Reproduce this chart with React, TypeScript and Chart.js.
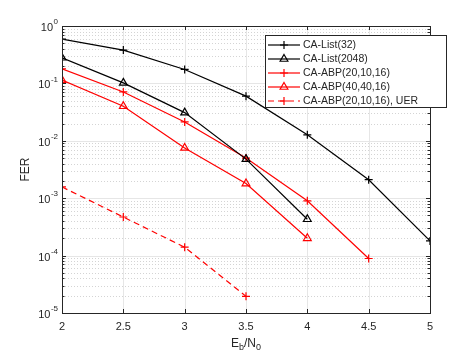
import React, { useEffect, useRef } from 'react';
import { Chart, registerables } from 'chart.js';

Chart.register(...registerables);

// ---- data ----
const ebn0 = [2, 2.5, 3, 3.5, 4, 4.5, 5];
const xTickLabels = ['2', '2.5', '3', '3.5', '4', '4.5', '5'];
const yDecades = [0, -1, -2, -3, -4, -5];

const seriesNames = [
  'CA-List(32)',
  'CA-List(2048)',
  'CA-ABP(20,10,16)',
  'CA-ABP(40,40,16)',
  'CA-ABP(20,10,16), UER',
];
const caList32 = [0.59, 0.38, 0.175, 0.06, 0.0127, 0.0021, 1.8e-4];
const caList2048 = [0.28, 0.102, 0.031, 0.0048, 4.3e-4];
const abp201016 = [0.18, 0.071, 0.0213, 0.005, 9e-4, 8.9e-5];
const abp404016 = [0.114, 0.04, 0.0075, 0.0018, 2.0e-4];
const abp201016Uer = [1.57e-3, 4.7e-4, 1.4e-4, 1.95e-5];

const FONT = '"Liberation Sans", Arial, Helvetica, sans-serif';
const AXIS = '#262626';
const RED = '#ff0000';
const BLACK = '#000000';

const seriesStyles = [
  { color: BLACK, marker: 'cross', dash: [] as number[] },
  { color: BLACK, marker: 'triangle', dash: [] as number[] },
  { color: RED, marker: 'cross', dash: [] as number[] },
  { color: RED, marker: 'triangle', dash: [] as number[] },
  { color: RED, marker: 'cross', dash: [6, 4] },
];
const seriesValues = [caList32, caList2048, abp201016, abp404016, abp201016Uer];

function drawMarker(ctx: CanvasRenderingContext2D, kind: string, x: number, y: number, color: string) {
  ctx.save();
  ctx.setLineDash([]);
  ctx.strokeStyle = color;
  ctx.lineWidth = 1.2;
  ctx.beginPath();
  if (kind === 'cross') {
    const r = 4;
    ctx.moveTo(x - r, y);
    ctx.lineTo(x + r, y);
    ctx.moveTo(x, y - r);
    ctx.lineTo(x, y + r);
  } else {
    const r = 4.5;
    let a = 0;
    ctx.moveTo(x + Math.sin(a) * r, y - Math.cos(a) * r);
    a += (2 * Math.PI) / 3;
    ctx.lineTo(x + Math.sin(a) * r, y - Math.cos(a) * r);
    a += (2 * Math.PI) / 3;
    ctx.lineTo(x + Math.sin(a) * r, y - Math.cos(a) * r);
    ctx.closePath();
  }
  ctx.stroke();
  ctx.restore();
}

const matlabPlugin = {
  id: 'matlabStyle',
  beforeDatasetsDraw(chart: any) {
    const { ctx, chartArea: a, scales } = chart;
    const xs = scales.x;
    const ys = scales.y;
    ctx.save();
    ctx.lineWidth = 1;
    // minor horizontal grid (dotted)
    ctx.strokeStyle = '#d4d4d4';
    ctx.setLineDash([1, 2]);
    for (const d of yDecades) {
      for (let m = 2; m <= 9; m++) {
        const v = m * Math.pow(10, d);
        if (v >= 1) continue;
        const py = Math.round(ys.getPixelForValue(v)) + 0.5;
        ctx.beginPath();
        ctx.moveTo(a.left, py);
        ctx.lineTo(a.right, py);
        ctx.stroke();
      }
    }
    // major grid
    ctx.setLineDash([]);
    ctx.strokeStyle = '#e6e6e6';
    for (const d of yDecades) {
      const py = Math.round(ys.getPixelForValue(Math.pow(10, d))) + 0.5;
      ctx.beginPath();
      ctx.moveTo(a.left, py);
      ctx.lineTo(a.right, py);
      ctx.stroke();
    }
    for (const v of ebn0) {
      const px = Math.round(xs.getPixelForValue(v)) + 0.5;
      ctx.beginPath();
      ctx.moveTo(px, a.top);
      ctx.lineTo(px, a.bottom);
      ctx.stroke();
    }
    ctx.restore();
  },
  afterDatasetsDraw(chart: any) {
    const { ctx, chartArea: a, scales } = chart;
    const xs = scales.x;
    const ys = scales.y;
    ctx.save();
    ctx.setLineDash([]);
    ctx.strokeStyle = AXIS;
    ctx.lineWidth = 1;
    // box
    ctx.strokeRect(Math.round(a.left) + 0.5, Math.round(a.top) + 0.5, Math.round(a.right - a.left), Math.round(a.bottom - a.top));
    // x ticks inward
    ctx.beginPath();
    for (const v of ebn0) {
      const px = Math.round(xs.getPixelForValue(v)) + 0.5;
      ctx.moveTo(px, a.bottom);
      ctx.lineTo(px, a.bottom - 4);
      ctx.moveTo(px, a.top);
      ctx.lineTo(px, a.top + 4);
    }
    // y ticks inward
    for (const d of yDecades) {
      for (let m = 1; m <= 9; m++) {
        const v = m * Math.pow(10, d);
        if (v > 1) continue;
        const len = m === 1 ? 4 : 2.5;
        const py = Math.round(ys.getPixelForValue(v)) + 0.5;
        ctx.moveTo(a.left, py);
        ctx.lineTo(a.left + len, py);
        ctx.moveTo(a.right, py);
        ctx.lineTo(a.right - len, py);
      }
    }
    ctx.stroke();

    // y tick labels 10^d
    ctx.fillStyle = AXIS;
    ctx.textBaseline = 'middle';
    for (const d of yDecades) {
      const py = ys.getPixelForValue(Math.pow(10, d));
      const sup = String(d).replace('-', '-');
      ctx.font = `8px ${FONT}`;
      const supW = ctx.measureText(sup).width;
      const right = a.left - 4;
      ctx.textAlign = 'right';
      ctx.fillText(sup, right, py - 4);
      ctx.font = `11px ${FONT}`;
      ctx.fillText('10', right - supW - 0.5, py + 2);
    }

    // y title
    ctx.save();
    ctx.translate(26, (a.top + a.bottom) / 2);
    ctx.rotate(-Math.PI / 2);
    ctx.textAlign = 'center';
    ctx.textBaseline = 'middle';
    ctx.font = `12px ${FONT}`;
    ctx.fillText('FER', 0, 0);
    ctx.restore();

    // x title E_b/N_0
    {
      const parts: [string, boolean][] = [['E', false], ['b', true], ['/N', false], ['0', true]];
      const big = `12px ${FONT}`;
      const small = `9px ${FONT}`;
      let total = 0;
      for (const [t, s] of parts) {
        ctx.font = s ? small : big;
        total += ctx.measureText(t).width;
      }
      let cx = (a.left + a.right) / 2 - total / 2;
      const base = 347;
      ctx.textAlign = 'left';
      ctx.textBaseline = 'alphabetic';
      for (const [t, s] of parts) {
        ctx.font = s ? small : big;
        ctx.fillText(t, cx, s ? base + 3 : base);
        cx += ctx.measureText(t).width;
      }
    }

    // legend
    {
      const lx = 265, ly = 35, lw = 181, lh = 72;
      ctx.fillStyle = '#ffffff';
      ctx.fillRect(lx, ly, lw, lh);
      ctx.strokeStyle = AXIS;
      ctx.lineWidth = 1;
      ctx.strokeRect(lx + 0.5, ly + 0.5, lw, lh);
      ctx.font = `10.5px ${FONT}`;
      ctx.textAlign = 'left';
      ctx.textBaseline = 'middle';
      seriesNames.forEach((name, i) => {
        const st = seriesStyles[i];
        const ry = ly + 10 + i * 14;
        ctx.save();
        ctx.strokeStyle = st.color;
        ctx.lineWidth = 1.2;
        ctx.setLineDash(st.dash);
        ctx.beginPath();
        ctx.moveTo(lx + 3, ry);
        ctx.lineTo(lx + 35, ry);
        ctx.stroke();
        ctx.restore();
        drawMarker(ctx, st.marker, lx + 19, ry, st.color);
        ctx.fillStyle = AXIS;
        ctx.fillText(name, lx + 38, ry + 0.5);
      });
    }
    ctx.restore();
  },
};

export default function App() {
  const ref = useRef<HTMLCanvasElement>(null);
  useEffect(() => {
    document.body.style.margin = '0';
    const canvas = ref.current;
    if (!canvas) return;
    const datasets = seriesNames.map((name, i) => {
      const st = seriesStyles[i];
      return {
        label: name,
        data: seriesValues[i].map((v, j) => ({ x: ebn0[j], y: v })),
        borderColor: st.color,
        backgroundColor: st.color,
        borderWidth: 1.2,
        borderDash: st.dash,
        pointStyle: st.marker,
        pointRadius: st.marker === 'cross' ? 4 : 4.5,
        pointBorderWidth: 1.2,
        pointBorderColor: st.color,
        pointBackgroundColor: 'rgba(0,0,0,0)',
        tension: 0,
        fill: false,
      };
    });
    const chart = new Chart(canvas, {
      type: 'line',
      data: { datasets },
      options: {
        animation: false,
        responsive: false,
        layout: { padding: { top: 26, right: 44, left: 0, bottom: 0 } },
        plugins: { legend: { display: false }, tooltip: { enabled: false } },
        scales: {
          x: {
            type: 'linear',
            min: 2,
            max: 5,
            afterBuildTicks: (s: any) => {
              s.ticks = ebn0.map((v) => ({ value: v }));
            },
            afterFit: (s: any) => {
              s.height = 42;
            },
            ticks: {
              color: AXIS,
              font: { family: FONT, size: 11 },
              padding: 7,
              maxRotation: 0,
              autoSkip: false,
              callback: (v: any) => {
                const idx = ebn0.indexOf(Number(v));
                return idx >= 0 ? xTickLabels[idx] : '';
              },
            },
            grid: { display: false, drawTicks: false },
            border: { display: false },
          },
          y: {
            type: 'logarithmic',
            min: 1e-5,
            max: 1,
            afterFit: (s: any) => {
              s.width = 62;
            },
            ticks: { display: false },
            grid: { display: false, drawTicks: false },
            border: { display: false },
          },
        },
      },
      plugins: [matlabPlugin],
    } as any);
    return () => chart.destroy();
  }, []);
  return (
    <div style={{ position: 'absolute', left: 0, top: 0, width: 474, height: 355 }}>
      <canvas ref={ref} width={474} height={355} style={{ width: 474, height: 355 }} />
    </div>
  );
}
